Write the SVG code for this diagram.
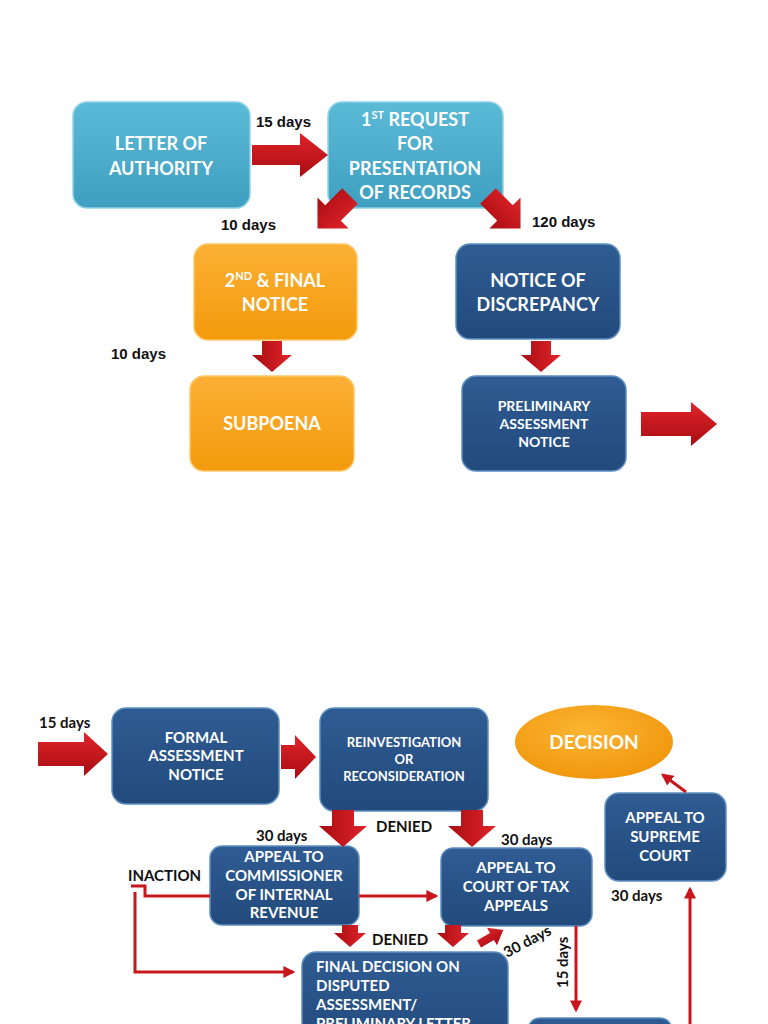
<svg xmlns="http://www.w3.org/2000/svg" width="768" height="1024" viewBox="0 0 768 1024">
<defs>
<linearGradient id="gl" x1="0" y1="0" x2="0" y2="1"><stop offset="0" stop-color="#5bbad6"/><stop offset="1" stop-color="#3f9fc0"/></linearGradient>
<linearGradient id="go" x1="0" y1="0" x2="0" y2="1"><stop offset="0" stop-color="#fbb034"/><stop offset="1" stop-color="#f39a0c"/></linearGradient>
<linearGradient id="gd" x1="0" y1="0" x2="0" y2="1"><stop offset="0" stop-color="#2f5c93"/><stop offset="1" stop-color="#224a7c"/></linearGradient>
<linearGradient id="ga" x1="0" y1="0" x2="0" y2="1"><stop offset="0" stop-color="#e0242a"/><stop offset="1" stop-color="#a80d12"/></linearGradient>
<radialGradient id="ge" cx="0.45" cy="0.35" r="0.7"><stop offset="0" stop-color="#fbb533"/><stop offset="1" stop-color="#f0940a"/></radialGradient>
<marker id="m" viewBox="0 0 10 10" refX="8" refY="5" markerWidth="4" markerHeight="4" orient="auto"><path d="M0,0L10,5L0,10z" fill="#c8161d"/></marker>
</defs>
<style>
.l{fill:url(#gl);stroke:#8fd3e8;stroke-width:1.5}
.o{fill:url(#go);stroke:#fcc86a;stroke-width:1.5}
.d{fill:url(#gd);stroke:#5f8fc0;stroke-width:1.5}
.t{font-family:Lato,"Open Sans",sans-serif;font-weight:bold;fill:#fff;text-anchor:middle}
.k{font-family:"Liberation Sans",Arial,sans-serif;font-weight:bold;fill:#111;font-size:15px}
.kc{font-family:Lato,"Open Sans",sans-serif;font-weight:bold;fill:#111;font-size:15px}
.ba{fill:url(#ga)}
.ln{fill:none;stroke:#c8161d;stroke-width:3}
</style>
<rect width="768" height="1024" fill="#fff"/>
<g id="n1"><rect class="l" x="73" y="102" width="177" height="106" rx="14"/><text class="t" font-size="18"><tspan x="161" y="150">LETTER OF</tspan><tspan x="161" y="175">AUTHORITY</tspan></text></g>
<g id="n2"><rect class="l" x="328" y="102" width="175" height="106" rx="14"/><text class="t" font-size="18"><tspan x="415" y="126">1<tspan font-size="11" dy="-7">ST</tspan><tspan dy="7"> REQUEST</tspan></tspan><tspan x="415" y="150">FOR</tspan><tspan x="415" y="175">PRESENTATION</tspan><tspan x="415" y="199">OF RECORDS</tspan></text></g>
<g id="n3"><rect class="o" x="194" y="244" width="163" height="96" rx="14"/><text class="t" font-size="18"><tspan x="275" y="287">2<tspan font-size="11" dy="-7">ND</tspan><tspan dy="7"> &amp; FINAL</tspan></tspan><tspan x="275" y="311">NOTICE</tspan></text></g>
<g id="n4"><rect class="o" x="190" y="376" width="164" height="95" rx="14"/><text class="t" font-size="18" x="272" y="430">SUBPOENA</text></g>
<g id="n5"><rect class="d" x="456" y="244" width="164" height="95" rx="14"/><text class="t" font-size="18"><tspan x="538" y="287">NOTICE OF</tspan><tspan x="538" y="311">DISCREPANCY</tspan></text></g>
<g id="n6"><rect class="d" x="462" y="376" width="164" height="95" rx="14"/><text class="t" font-size="14"><tspan x="544" y="411">PRELIMINARY</tspan><tspan x="544" y="429">ASSESSMENT</tspan><tspan x="544" y="447">NOTICE</tspan></text></g>
<g id="n7"><rect class="d" x="112" y="708" width="167" height="96" rx="14"/><text class="t" font-size="15"><tspan x="196" y="743">FORMAL</tspan><tspan x="196" y="761">ASSESSMENT</tspan><tspan x="196" y="780">NOTICE</tspan></text></g>
<g id="n8"><rect class="d" x="320" y="708" width="168" height="103" rx="14"/><text class="t" font-size="13"><tspan x="404" y="747">REINVESTIGATION</tspan><tspan x="404" y="764">OR</tspan><tspan x="404" y="781">RECONSIDERATION</tspan></text></g>
<g id="n9"><ellipse cx="594" cy="742" rx="79" ry="37" fill="url(#ge)"/><text class="t" font-size="19" x="594" y="749">DECISION</text></g>
<g id="n10"><rect class="d" x="605" y="793" width="121" height="88" rx="14"/><text class="t" font-size="15"><tspan x="665" y="823">APPEAL TO</tspan><tspan x="665" y="842">SUPREME</tspan><tspan x="665" y="861">COURT</tspan></text></g>
<g id="n11"><rect class="d" x="210" y="846" width="149" height="79" rx="12"/><text class="t" font-size="15"><tspan x="284" y="862">APPEAL TO</tspan><tspan x="284" y="881">COMMISSIONER</tspan><tspan x="284" y="900">OF INTERNAL</tspan><tspan x="284" y="918">REVENUE</tspan></text></g>
<g id="n12"><rect class="d" x="441" y="848" width="151" height="78" rx="12"/><text class="t" font-size="15"><tspan x="516" y="873">APPEAL TO</tspan><tspan x="516" y="892">COURT OF TAX</tspan><tspan x="516" y="911">APPEALS</tspan></text></g>
<g id="n13"><rect class="d" x="302" y="952" width="206" height="100" rx="14"/><text class="t" font-size="15" text-anchor="start" style="text-anchor:start"><tspan x="316" y="972">FINAL DECISION ON</tspan><tspan x="316" y="991">DISPUTED</tspan><tspan x="316" y="1010">ASSESSMENT/</tspan><tspan x="316" y="1029">PRELIMINARY LETTER</tspan></text></g>
<g id="n14"><rect class="d" x="528" y="1018" width="144" height="40" rx="12"/></g>
<g id="connectors">
<path class="ba" transform="translate(252,155)" d="M0,-10H48V-22L76,0L48,22V10H0Z"/>
<path class="ba" transform="translate(350,196) rotate(135)" d="M0,-11H24V-22L46,0L24,22V11H0Z"/>
<path class="ba" transform="translate(488,196) rotate(45)" d="M0,-11H24V-22L46,0L24,22V11H0Z"/>
<path class="ba" transform="translate(272,341) rotate(90)" d="M0,-10H14V-20L31,0L14,20V10H0Z"/>
<path class="ba" transform="translate(541,341) rotate(90)" d="M0,-10H14V-20L31,0L14,20V10H0Z"/>
<path class="ba" transform="translate(641,424)" d="M0,-12H50V-22L76,0L50,22V12H0Z"/>
<path class="ba" transform="translate(38,754)" d="M0,-12H46V-22L70,0L46,22V12H0Z"/>
<path class="ba" transform="translate(281,757)" d="M0,-12H14V-22L35,0L14,22V12H0Z"/>
<path class="ba" transform="translate(343,810) rotate(90)" d="M0,-11H16V-24L37,0L16,24V11H0Z"/>
<path class="ba" transform="translate(472,810) rotate(90)" d="M0,-11H16V-24L37,0L16,24V11H0Z"/>
<path class="ba" transform="translate(350,925) rotate(90)" d="M0,-8H8V-16L22,0L8,16V8H0Z"/>
<path class="ba" transform="translate(453,925) rotate(90)" d="M0,-8H8V-16L22,0L8,16V8H0Z"/>
<path class="ba" transform="translate(479,944) rotate(-30)" d="M0,-4H15V-10L28,0L15,10V4H0Z"/>
<path class="ln" d="M131,886H145V896H210"/>
<path class="ln" d="M135,892V972H293" marker-end="url(#m)"/>
<path class="ln" d="M359,896H436" marker-end="url(#m)"/>
<path class="ln" d="M576,926V1010" marker-end="url(#m)"/>
<path class="ln" d="M690,1024V889" marker-end="url(#m)"/>
<path class="ln" d="M686,792L663,775" marker-end="url(#m)"/>
</g>
<g id="labels">
<text class="k" x="256" y="127">15 days</text>
<text class="k" x="221" y="230">10 days</text>
<text class="k" x="532" y="227">120 days</text>
<text class="k" x="111" y="359">10 days</text>
<text class="kc" x="39" y="728" font-size="16">15 days</text>
<text class="kc" x="376" y="832">DENIED</text>
<text class="kc" x="256" y="841">30 days</text>
<text class="kc" x="501" y="845">30 days</text>
<text class="kc" x="128" y="881">INACTION</text>
<text class="kc" x="372" y="945">DENIED</text>
<text class="kc" transform="translate(507,958) rotate(-28)">30 days</text>
<text class="kc" transform="translate(568,988) rotate(-90)">15 days</text>
<text class="kc" x="611" y="901">30 days</text>
</g>
</svg>
